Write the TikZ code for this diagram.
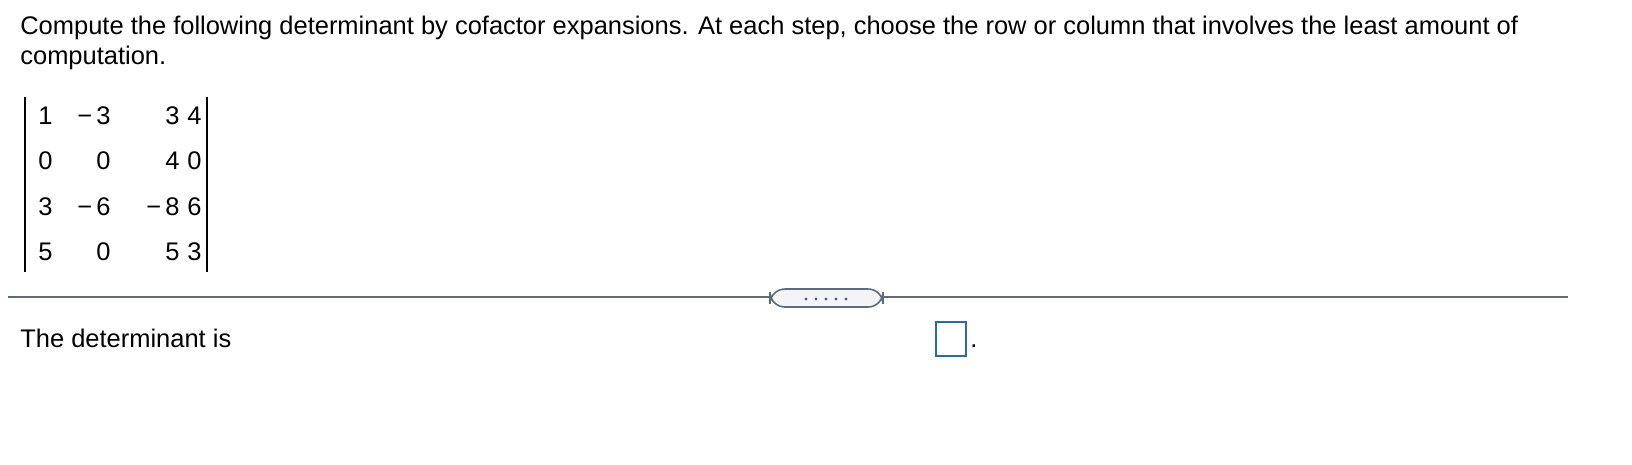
\documentclass[tikz,border=0pt]{standalone}
\usepackage{fontspec}
\setmainfont{Liberation Sans}
\definecolor{rulegray}{HTML}{5F6B7A}
\definecolor{pillfill}{HTML}{F2F4F7}
\definecolor{boxblue}{HTML}{2A6AA8}
\begin{document}
\begin{tikzpicture}[x=0.02cm,y=-0.02cm,
  txt/.style={anchor=base west,inner sep=0pt,font=\fontsize{14.5pt}{17pt}\selectfont},
  ent/.style={anchor=base east,inner sep=0pt,font=\fontsize{14.5pt}{17pt}\selectfont}]
\node[txt] (l1) at (20,34) {Compute the following determinant by cofactor expansions. At each step, choose the row or column that involves the least amount of};
\node[txt] (l2) at (20,64) {computation.};
\draw[line width=1.2pt] (25,97) -- (25,272);
\draw[line width=1.2pt] (207,97) -- (207,272);
\foreach \r [count=\i] in {{1,−\,3,3,4},{0,0,4,0},{3,−\,6,−\,8,6},{5,0,5,3}}{
  \foreach \v [count=\j] in \r {
    \pgfmathsetmacro{\xx}{{53,111,180,202}[\j-1]}
    \pgfmathsetmacro{\yy}{124+45.5*(\i-1)}
    \node[ent] (m\i\j) at (\xx,\yy) {\v};
  }
}
\draw[rulegray,line width=0.9pt] (8,297) -- (1568,297);
\draw[rulegray,fill=pillfill,line width=0.9pt,rounded corners=8.5] (770,289) rectangle (883,307);
\coordinate (pill) at (826.5,298);
\foreach \k in {0,...,4}{\fill[rulegray!90!black] (806+10*\k,299) circle (1.6);}
\node[txt] (ans) at (20,347) {The determinant is};
\draw[boxblue,line width=0.8pt] (936,322) rectangle (966,356);
\coordinate (box) at (951,339);
\node[txt] (dot) at (970,347) {.};
\pgfresetboundingbox
\useasboundingbox (0,0) rectangle (1632,464);
\end{tikzpicture}
\end{document}
